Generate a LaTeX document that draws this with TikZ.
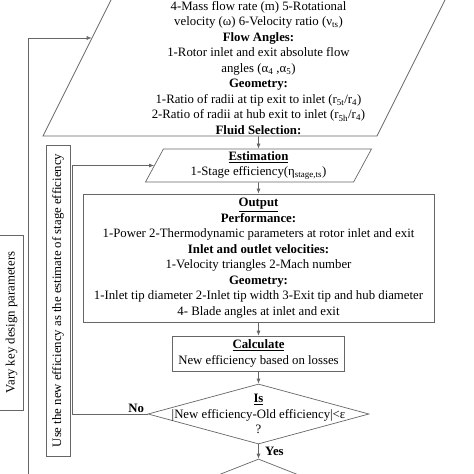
\documentclass[tikz,border=0pt]{standalone}
\usepackage{fontspec}
\setmainfont{Liberation Serif}
\usetikzlibrary{arrows.meta,positioning,shapes.geometric}

\begin{document}
\begin{tikzpicture}[
  x=1pt, y=-1pt,
  font=\fontsize{12.8}{15.5}\selectfont,
  line/.style={draw=black!60, line width=0.7pt},
  box/.style={line, rectangle, align=center, inner sep=0pt},
  para/.style={line, trapezium, trapezium stretches body, inner sep=0pt, align=center},
  slantbox/.style={line, rectangle, inner sep=0pt, xslant=0.5, transform shape},
  decision/.style={line, diamond, inner sep=0pt},
  sidebox/.style={line, rotate=90, inner sep=0pt, minimum height=24pt},
  arrow/.style={line, -{Latex[length=5pt, width=4pt]}}
]
\useasboundingbox (0,0) rectangle (474,474);
\clip (0,0) rectangle (474,474);

% main column
\node[slantbox, minimum width=334pt, minimum height=196pt] (inbox) at (259,38) {};
\node[align=center] (inp) at (258.5,68) {4-Mass flow rate (m) 5-Rotational\\
  velocity (ω) 6-Velocity ratio (ν\textsubscript{ts})\\
  \textbf{Flow Angles:}\\
  1-Rotor inlet and exit absolute flow\\
  angles (α\textsubscript{4} ,α\textsubscript{5})\\
  \textbf{Geometry:}\\
  1-Ratio of radii at tip exit to inlet (r\textsubscript{5t}/r\textsubscript{4})\\
  2-Ratio of radii at hub exit to inlet (r\textsubscript{5h}/r\textsubscript{4})\\
  \textbf{Fluid Selection:}};

\node[para, trapezium left angle=57.5, trapezium right angle=122.5,
  minimum width=226pt, minimum height=33pt] (est) at (258.5,165.5)
  {\underline{\textbf{Estimation}}\\1-Stage efficiency(η\textsubscript{stage,ts})};

\node[box, minimum width=351pt, minimum height=128pt] (out) at (258.5,258)
  {\underline{\textbf{Output}}\\
  \textbf{Performance:}\\
  1-Power 2-Thermodynamic parameters at rotor inlet and exit\\
  \textbf{Inlet and outlet velocities:}\\
  1-Velocity triangles 2-Mach number\\
  \textbf{Geometry:}\\
  1-Inlet tip diameter 2-Inlet tip width 3-Exit tip and hub diameter\\
  4- Blade angles at inlet and exit};

\node[box, minimum width=172pt, minimum height=35pt] (calc) at (258.5,353.5)
  {\underline{\textbf{Calculate}}\\New efficiency based on losses};

\node[decision, minimum width=221pt, minimum height=60pt] (dec) at (258.5,414) {};
\node[align=center] (dectxt) at (dec) {\underline{\textbf{Is}}\\|New efficiency-Old efficiency|<ε\\?};

\node[decision, minimum width=152pt, minimum height=60pt] (dec2) at (258.5,489) {};

% side labels
\node[sidebox, minimum width=175pt] (vary) at (11.5,322.5) {Vary key design parameters};
\node[sidebox, minimum width=311pt] (use) at (58,300.5)
  {Use the new efficiency as the estimate of stage efficiency};

\coordinate (back) at (28,500);

\draw[arrow] (inbox.south -| est.north) -- (est);
\draw[arrow] (est) -- (out);
\draw[arrow] (out) -- (calc);
\draw[arrow] (calc) -- (dec);
\draw[arrow] (dec) -- node[right=3pt] {\textbf{Yes}} (dec2);
\draw[arrow] (dec.west) node[above left=-2pt and 0pt] {\textbf{No}}
  -- ++(-75,0) |- (est.west);
\draw[arrow] (back) |- (inbox.west);

\end{tikzpicture}
\end{document}
